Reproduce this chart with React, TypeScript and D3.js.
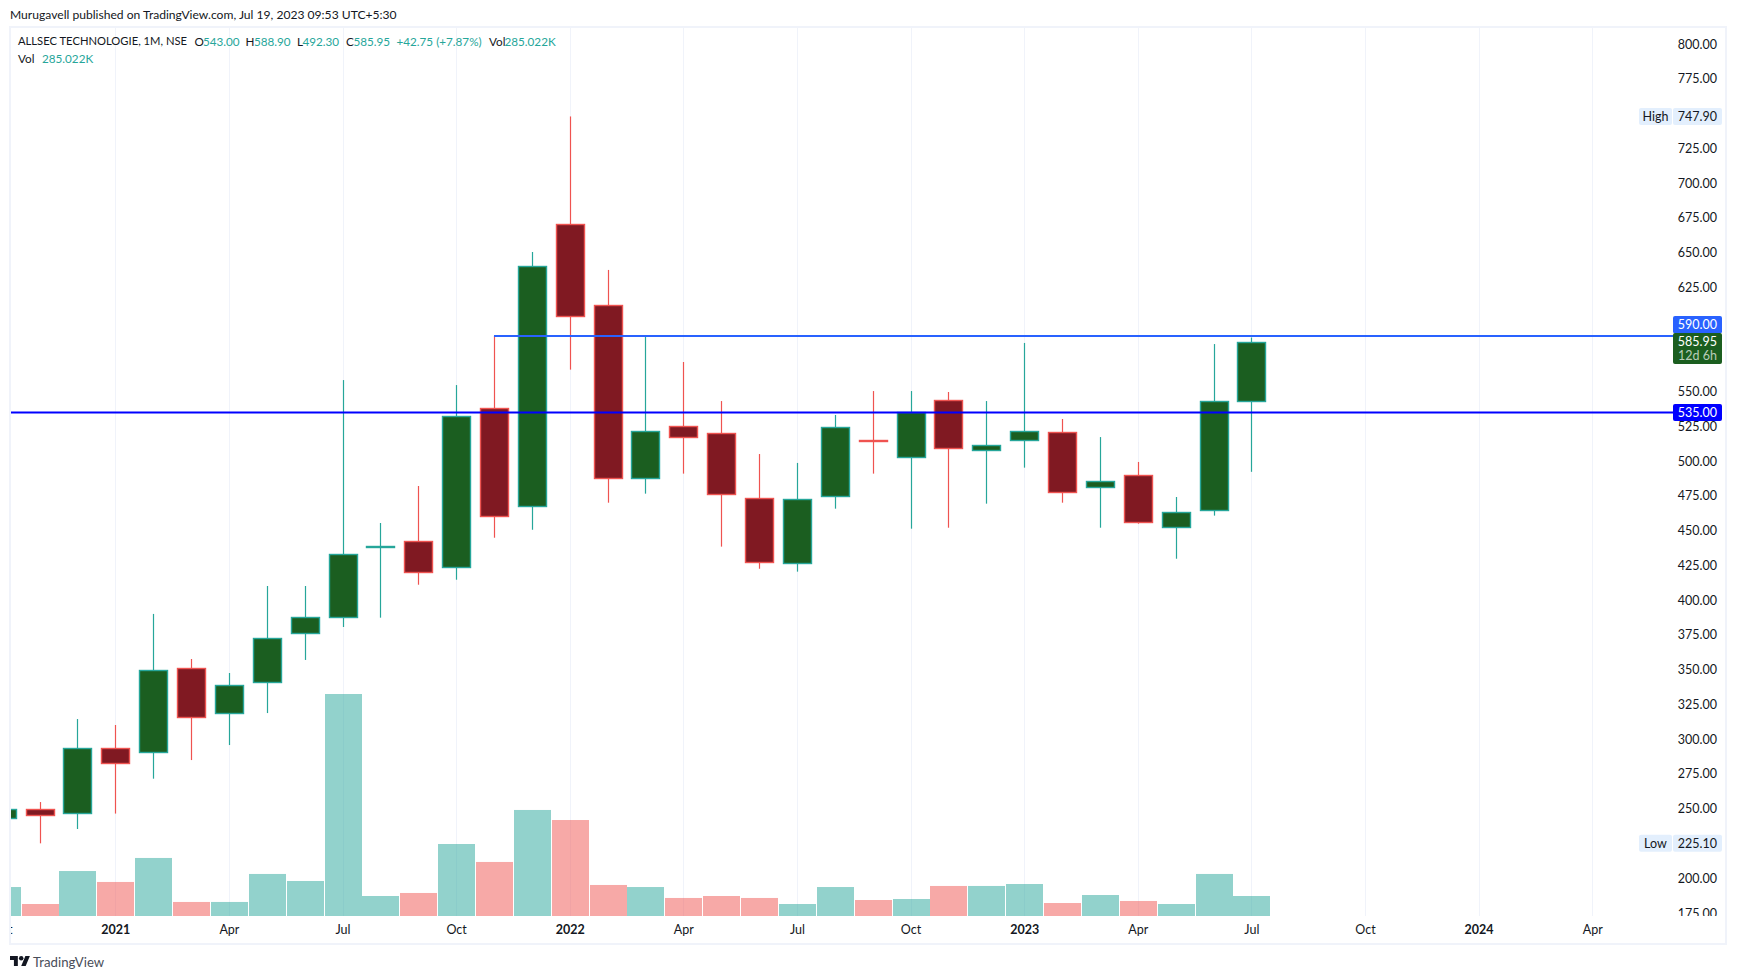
import { useEffect, useRef } from "react";
import * as d3 from "d3";

const months = d3
  .timeMonths(new Date(2020, 9, 1), new Date(2024, 4, 1))
  .map((d) => d3.timeFormat("%Y-%m")(d));

const opens = [243, 250, 246.7, 293.4, 291, 351, 319.1, 341.4, 376.6, 388.1, 438.3, 442.3, 423.6, 538.4, 467.5, 670.3, 612.1, 487.6, 525, 520, 473.3, 426.5, 474.7, 515.5, 502.7, 543.7, 507.8, 515, 520.7, 481.2, 489.8, 452.4, 464.6, 543];
const highs = [255, 254.8, 314.5, 310.2, 390.1, 357.7, 347.6, 410.2, 410.2, 558.3, 455.5, 482.1, 554.7, 590, 650.4, 747.9, 637.5, 590, 571.3, 543.2, 505.1, 498.7, 533.2, 550.4, 550.4, 549.7, 543.2, 585, 530.3, 517.3, 499.4, 474.2, 584.2, 588.9];
const lows = [240, 225.1, 235.4, 246.5, 271.6, 285, 295.8, 318.8, 357, 380.7, 387.4, 411.1, 414.7, 444.9, 450.7, 565.8, 470.1, 476.6, 491, 438.5, 422.6, 420.5, 465.8, 491, 451.4, 452.1, 469.4, 495.3, 470.1, 452.1, 455, 429.8, 460.8, 492.3];
const closes = [250, 245.3, 293.4, 283.1, 349.5, 316.2, 338.8, 372.6, 387.6, 433, 439.3, 420, 532.2, 460.3, 640.1, 604.2, 487.6, 521.4, 517.1, 476.1, 427.2, 472.5, 524.3, 514.9, 535.5, 509.2, 511.4, 521.4, 477.6, 485.5, 456, 463.2, 543, 585.95];
// volume in thousands
const volumes = [413, 171, 641, 485, 827, 200, 200, 599, 499, 3164, 285, 328, 1026, 770, 1511, 1368, 442, 413, 257, 285, 257, 171, 413, 228, 242, 428, 428, 456, 185, 299, 214, 171, 599, 285];

const priceTicks = [800, 775, 725, 700, 675, 650, 625, 550, 525, 500, 475, 450, 425, 400, 375, 350, 325, 300, 275, 250, 200, 175];
const timeTicks = ["2020-10", "2021-01", "2021-04", "2021-07", "2021-10", "2022-01", "2022-04", "2022-07", "2022-10", "2023-01", "2023-04", "2023-07", "2023-10", "2024-01", "2024-04"];
const timeLabels = ["Oct", "2021", "Apr", "Jul", "Oct", "2022", "Apr", "Jul", "Oct", "2023", "Apr", "Jul", "Oct", "2024", "Apr"];

const UP = "#26a69a";
const DOWN = "#ef5350";
const UP_BODY = "#1b5e20";
const DOWN_BODY = "#801922";
const FONT = "Lato, 'Noto Sans', sans-serif";
const TEXT = "#131722";

const W = 1737;
const H = 979;
const PANE = { left: 11, right: 1673, top: 28, bottom: 916 };

export default function App() {
  const svgRef = useRef<SVGSVGElement>(null);

  useEffect(() => {
    if (!svgRef.current) return;
    const svg = d3.select(svgRef.current);
    svg.selectAll("*").remove();

    const x = d3.scalePoint<string>().domain(months).range([1.69, 1592.2]);
    const y = d3.scaleLinear().domain([175, 800]).range([913, 44]);
    const vol = d3
      .scaleLinear()
      .domain([0, d3.max(volumes) as number])
      .range([PANE.bottom, 694]);
    const cx = (m: string) => Math.round(x(m) ?? 0) + 0.5;
    const snap = (v: number) => Math.round(v) + 0.5;

    const defs = svg.append("defs");
    defs
      .append("clipPath")
      .attr("id", "pane")
      .append("rect")
      .attr("x", PANE.left)
      .attr("y", PANE.top)
      .attr("width", PANE.right - PANE.left)
      .attr("height", PANE.bottom - PANE.top);
    defs
      .append("clipPath")
      .attr("id", "price-clip")
      .append("rect")
      .attr("x", PANE.right)
      .attr("y", PANE.top)
      .attr("width", 52)
      .attr("height", PANE.bottom - PANE.top);
    defs
      .append("clipPath")
      .attr("id", "time-clip")
      .append("rect")
      .attr("x", PANE.left)
      .attr("y", PANE.bottom)
      .attr("width", PANE.right - PANE.left)
      .attr("height", 27);

    // Outer frame
    svg
      .append("rect")
      .attr("x", 10)
      .attr("y", 27)
      .attr("width", 1716)
      .attr("height", 917)
      .attr("fill", "none")
      .attr("stroke", "#f0f3fa")
      .attr("stroke-width", 2);

    const pane = svg.append("g").attr("clip-path", "url(#pane)");

    // Vertical grid
    pane
      .selectAll(".grid")
      .data(timeTicks)
      .enter()
      .append("line")
      .attr("class", "grid")
      .attr("x1", cx)
      .attr("x2", cx)
      .attr("y1", PANE.top)
      .attr("y2", PANE.bottom)
      .attr("stroke", "#f0f3fa");

    const candles = closes.map((c, i) => ({
      month: months[i],
      open: opens[i],
      high: highs[i],
      low: lows[i],
      close: c,
      volume: volumes[i],
      up: c >= opens[i],
    }));
    type Candle = (typeof candles)[number];

    // Volume
    pane
      .selectAll(".vol")
      .data(candles)
      .enter()
      .append("rect")
      .attr("class", "vol")
      .attr("x", (d: Candle) => cx(d.month) - 18.5)
      .attr("y", (d: Candle) => vol(d.volume))
      .attr("width", 37)
      .attr("height", (d: Candle) => PANE.bottom - vol(d.volume))
      .attr("fill", (d: Candle) => (d.up ? UP : DOWN))
      .attr("fill-opacity", 0.5);

    // Wicks
    pane
      .selectAll(".wick")
      .data(candles)
      .enter()
      .append("line")
      .attr("class", "wick")
      .attr("x1", (d: Candle) => cx(d.month))
      .attr("x2", (d: Candle) => cx(d.month))
      .attr("y1", (d: Candle) => y(d.high))
      .attr("y2", (d: Candle) => y(d.low))
      .attr("stroke", (d: Candle) => (d.up ? UP : DOWN))
      .attr("stroke-width", 1.2);

    // Bodies
    pane
      .selectAll(".body")
      .data(candles)
      .enter()
      .append("rect")
      .attr("class", "body")
      .attr("x", (d: Candle) => cx(d.month) - 14)
      .attr("y", (d: Candle) => snap(y(Math.max(d.open, d.close))))
      .attr("width", 28)
      .attr("height", (d: Candle) =>
        Math.max(1, snap(y(Math.min(d.open, d.close))) - snap(y(Math.max(d.open, d.close))))
      )
      .attr("fill", (d: Candle) => (d.up ? UP_BODY : DOWN_BODY))
      .attr("stroke", (d: Candle) => (d.up ? UP : DOWN))
      .attr("stroke-width", 1.4);

    // Horizontal levels
    pane
      .append("line")
      .attr("x1", x("2021-11") ?? 0)
      .attr("x2", PANE.right)
      .attr("y1", y(590))
      .attr("y2", y(590))
      .attr("stroke", "#2962ff")
      .attr("stroke-width", 2);
    pane
      .append("line")
      .attr("x1", PANE.left)
      .attr("x2", PANE.right)
      .attr("y1", y(535))
      .attr("y2", y(535))
      .attr("stroke", "#0000ff")
      .attr("stroke-width", 2);

    // Time axis
    svg
      .append("g")
      .attr("clip-path", "url(#time-clip)")
      .append("g")
      .attr("transform", `translate(0,${PANE.bottom})`)
      .call(
        d3
          .axisBottom(x)
          .tickValues(timeTicks)
          .tickSize(0)
          .tickPadding(9)
          .tickFormat((_, i) => timeLabels[i])
      )
      .call((g) => g.select(".domain").remove())
      .call((g) =>
        g
          .selectAll<SVGTextElement, string>(".tick text")
          .attr("font-family", FONT)
          .attr("font-size", 12.5)
          .attr("fill", TEXT)
          .attr("font-weight", (_, i) => (/^\d/.test(timeLabels[i]) ? 700 : 400))
      );

    // Price axis
    svg
      .append("g")
      .attr("clip-path", "url(#price-clip)")
      .append("g")
      .attr("transform", "translate(1717,0)")
      .call(
        d3
          .axisLeft(y)
          .tickValues(priceTicks)
          .tickSize(0)
          .tickPadding(0)
          .tickFormat((d) => d3.format(".2f")(d as number))
      )
      .call((g) => g.select(".domain").remove())
      .call((g) =>
        g
          .selectAll(".tick text")
          .attr("font-family", FONT)
          .attr("font-size", 12.5)
          .attr("fill", TEXT)
      );

    const label = (
      text: string,
      px: number,
      py: number,
      fill = TEXT,
      anchor = "start",
      size = 12.5,
      opacity = 1
    ) =>
      svg
        .append("text")
        .attr("x", px)
        .attr("y", py)
        .attr("dy", "0.35em")
        .attr("text-anchor", anchor)
        .attr("font-family", FONT)
        .attr("font-size", size)
        .attr("fill", fill)
        .attr("fill-opacity", opacity)
        .text(text);

    const pill = (px: number, py: number, w: number, h: number, fill: string) =>
      svg
        .append("rect")
        .attr("x", px)
        .attr("y", py)
        .attr("width", w)
        .attr("height", h)
        .attr("rx", 2)
        .attr("fill", fill);

    // High / low tags
    ([["High", 747.9], ["Low", 225.1]] as [string, number][]).forEach(([name, v]) => {
      pill(1639, y(v) - 8.5, 33, 17, "#e3effd");
      pill(1673, y(v) - 8.5, 49, 17, "#e3effd");
      label(name, 1655.5, y(v), TEXT, "middle");
      label(d3.format(".2f")(v), 1717, y(v), TEXT, "end");
    });

    // Last price and line tags
    pill(1673, 316, 49, 17.5, "#2962ff");
    label("590.00", 1717, 324.5, "#ffffff", "end");
    pill(1673, 333, 49, 31, UP_BODY);
    label("585.95", 1717, 341.5, "#ffffff", "end");
    label("12d 6h", 1717, 356, "#ffffff", "end", 12.5, 0.7);
    pill(1673, y(535) - 8.5, 49, 17, "#0000ff");
    label("535.00", 1717, y(535), "#ffffff", "end");

    // Header
    label("Murugavell published on TradingView.com, Jul 19, 2023 09:53 UTC+5:30", 10, 15, TEXT, "start", 12.1);
    // the caps in this font run wide, so the symbol name is set smaller and pinned
    label("ALLSEC TECHNOLOGIE, 1M, NSE", 18, 41.5, TEXT, "start", 11)
      .attr("textLength", 169)
      .attr("lengthAdjust", "spacingAndGlyphs");
    const header: [string, number, string][] = [
      ["O", 194.5, TEXT],
      ["543.00", 203, UP],
      ["H", 245.5, TEXT],
      ["588.90", 254, UP],
      ["L", 297, TEXT],
      ["492.30", 302.5, UP],
      ["C", 346, TEXT],
      ["585.95", 353.5, UP],
      ["+42.75 (+7.87%)", 396.5, UP],
      ["Vol", 489, TEXT],
      ["285.022K", 504.5, UP],
    ];
    header.forEach(([t, px, c]) => label(t, px, 41.5, c, "start", 11.7));
    label("Vol", 18, 59, TEXT, "start", 11.7);
    label("285.022K", 42, 59, UP, "start", 11.7);

    // Footer logo
    svg
      .append("g")
      .attr("transform", "translate(10,953.8) scale(0.56)")
      .attr("fill", TEXT)
      .call((g) =>
        g.append("path").attr("d", "M14 22H7V11H0V4h14v18zM28 22h-8l7.5-18h8L28 22z")
      )
      .call((g) => g.append("circle").attr("cx", 20).attr("cy", 8).attr("r", 4));
    label("TradingView", 33, 962, "#4a4e59", "start", 13.2);
  }, []);

  return (
    <svg
      ref={svgRef}
      width={W}
      height={H}
      style={{ position: "absolute", left: 0, top: 0, background: "#ffffff" }}
    />
  );
}
